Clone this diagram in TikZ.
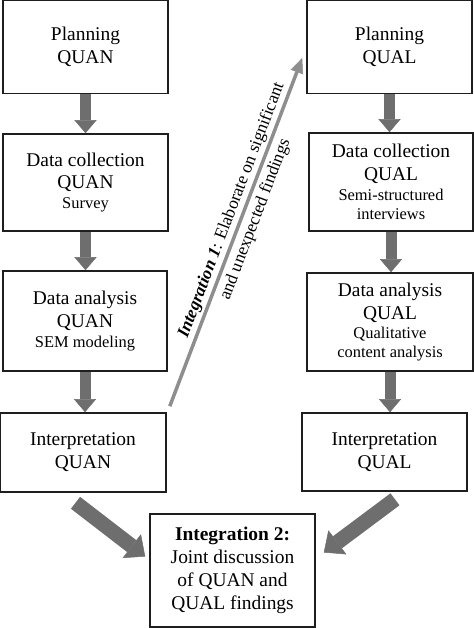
\documentclass[tikz,border=0pt]{standalone}
\usepackage{fontspec}
\setmainfont{Liberation Serif}
\usetikzlibrary{arrows.meta,calc}
\definecolor{boxline}{HTML}{1E1E1E}
\definecolor{stepgray}{HTML}{6E6E6E}
\definecolor{linkgray}{HTML}{8E8E8E}
\newcommand{\minorsize}{\fontsize{16.5}{19.5}\selectfont}
\tikzset{
	phase/.style = {draw = boxline, line width = 1.6bp, minimum width = 165bp, inner sep = 0pt,
		align = center, font = \fontsize{19.5}{23}\selectfont},
	flow/.style = {draw = stepgray, line width = 11bp,
		-{Triangle[width = 22bp, length = 13bp, line width = 0.5bp]}},
	merge/.style = {draw = stepgray, line width = 15bp,
		-{Triangle[width = 30bp, length = 17bp, line width = 0.5bp]}},
	link/.style = {draw = linkgray, line width = 3.5bp,
		-{Triangle[width = 13bp, length = 15bp, line width = 0.5bp]}},
	linktext/.style = {sloped, pos = 0.55, text = black, font = \fontsize{17.5}{21}\selectfont}
}
\begin{document}
\begin{tikzpicture}[x = 1bp, y = -1bp]
	\useasboundingbox (0, 0) rectangle (474, 628);
	
	% QUAN column
	\node[phase, minimum height = 93bp] (pquan) at (85.5, 47) {Planning\\QUAN};
	\node[phase, minimum height = 97bp] (dcquan) at (85.5, 182.5) {Data collection\\QUAN\\[-3bp]{\minorsize Survey}};
	\node[phase, minimum height = 100bp, minimum width = 164bp] (daquan) at (85, 321) {Data analysis\\QUAN\\[-3bp]{\minorsize SEM modeling}};
	\node[phase, minimum height = 79bp, minimum width = 166bp] (iquan) at (83, 452.5) {Interpretation\\QUAN};
	
	% QUAL column
	\node[phase, minimum height = 93bp] (pqual) at (389.5, 47) {Planning\\QUAL};
	\node[phase, minimum height = 98bp, minimum width = 164bp] (dcqual) at (391, 182) {Data collection\\QUAL\\[-3bp]{\minorsize Semi-structured}\\[-4bp]{\minorsize interviews}};
	\node[phase, minimum height = 98bp, minimum width = 166bp] (daqual) at (390, 322) {Data analysis\\QUAL\\[-3bp]{\minorsize Qualitative}\\[-4bp]{\minorsize content analysis}};
	\node[phase, minimum height = 78bp] (iqual) at (384.5, 452) {Interpretation\\QUAL};
	
	% joint box
	\node[phase, minimum height = 113bp] (int2) at (232.5, 570.5) {\textbf{Integration 2:}\\Joint discussion\\of QUAN and\\QUAL findings};
	
	\foreach \a/\b in {pquan/dcquan, dcquan/daquan, daquan/iquan, pqual/dcqual, dcqual/daqual, daqual/iqual} {
		\draw[flow] (\a.south) -- (\a.south |- \b.north);
	}
	
	\draw[merge] ($(iquan.south) + (-7.5, 10)$) -- ($(int2.west) + (-4, -14)$);
	\draw[merge] ($(iqual.south) + (10.5, 7.5)$) -- ($(int2.east) + (8, -18)$);
	
	\draw[link] ($(iquan.north east) + (3, -6)$) -- node[linktext, above, inner sep = 2bp] {\textbf{\textit{Integration 1}}: Elaborate on significant}
		node[linktext, below, inner sep = 4bp] {and unexpected findings} ($(pqual.west) + (-4, 11)$);
\end{tikzpicture}
\end{document}
